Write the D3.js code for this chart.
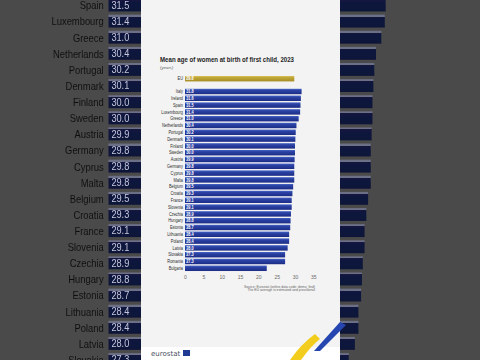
<!DOCTYPE html>
<head>
    <meta charset="utf-8">
    <title>Mean age of women at birth of first child</title>
    <script type="text/javascript" src="https://d3js.org/d3.v7.min.js"></script>
    <style>
        body { margin: 0; background: #4a4a4a; }
        svg { display: block; }
    </style>
</head>
<body>
<div id="container"></div>
<script>
    //-----------------------------DATA------------------------------//
    const countries = ["Italy", "Ireland", "Spain", "Luxembourg", "Greece", "Netherlands",
        "Portugal", "Denmark", "Finland", "Sweden", "Austria", "Germany", "Cyprus", "Malta",
        "Belgium", "Croatia", "France", "Slovenia", "Czechia", "Hungary", "Estonia",
        "Lithuania", "Poland", "Latvia", "Slovakia", "Romania", "Bulgaria"];
    const values = [31.8, 31.6, 31.5, 31.4, 31.0, 30.4, 30.2, 30.1, 30.0, 30.0, 29.9, 29.8,
        29.8, 29.8, 29.5, 29.3, 29.1, 29.1, 28.9, 28.8, 28.7, 28.4, 28.4, 28.0, 27.3, 27.3, 22.3];
    // bulgaria's bar is still growing in this frame, so no label yet
    const valueLabels = ["31.8", "31.6", "31.5", "31.4", "31.0", "30.4", "30.2", "30.1", "30.0",
        "30.0", "29.9", "29.8", "29.8", "29.8", "29.5", "29.3", "29.1", "29.1", "28.9", "28.8",
        "28.7", "28.4", "28.4", "28.0", "27.3", "27.3", ""];
    const euLabel = "EU";
    const euValue = 29.8;
    const xTicks = [0, 5, 10, 15, 20, 25, 30, 35];

    //-----------------------------SVG-------------------------------//
    const width = 480;
    const height = 360;
    const FONT = "'Liberation Sans Narrow', 'Arial Narrow', 'Liberation Sans', sans-serif";
    const NARROW = 0.8; // squeeze factor, the original font is a narrow one

    const svg = d3.select("div#container").append("svg")
        .attr("width", width)
        .attr("height", height);

    const defs = svg.append("defs");

    function gradient(id, stops) {
        const gr = defs.append("linearGradient").attr("id", id)
            .attr("x1", 0).attr("y1", 0).attr("x2", 0).attr("y2", 1);
        stops.forEach(function(s) {
            gr.append("stop").attr("offset", s[0]).attr("stop-color", s[1]);
        });
    }
    gradient("bar-card", [["0%", "#4a66c6"], ["30%", "#2b43a5"], ["100%", "#1c2c85"]]);
    gradient("eu-card", [["0%", "#d8c35a"], ["30%", "#c0a638"], ["100%", "#a68e24"]]);
    gradient("bar-bg", [["0%", "#6c6f87"], ["15%", "#6c6f87"], ["15%", "#12183f"], ["100%", "#0e1438"]]);
    gradient("eu-bg", [["0%", "#6f6a4a"], ["15%", "#6f6a4a"], ["15%", "#3b3412"], ["100%", "#332d0e"]]);

    defs.append("filter").attr("id", "soft")
        .append("feGaussianBlur").attr("stdDeviation", 0.22);

    const cardPal = { bar: "url(#bar-card)", eu: "url(#eu-card)", label: "#2b2b2b",
        value: "#ffffff", valueWeight: "bold", tick: "#6a6a6a" };
    const bgPal = { bar: "url(#bar-bg)", eu: "url(#eu-bg)", label: "#101010",
        value: "#c3c6dc", valueWeight: "normal", tick: "#222" };

    // narrow text: place with translate, then squeeze horizontally
    function squeezed(sel, xx, yy) {
        return sel.attr("transform", function(d, i) {
            return "translate(" + xx(d, i) + "," + yy(d, i) + ") scale(" + NARROW + ",1)";
        });
    }

    //----------------------------CHART------------------------------//
    function drawChart(g, pal) {
        const x = d3.scaleLinear().domain([0, 35]).range([185, 313.33]);
        const y = d3.scaleBand().domain(countries)
            .range([88.1, 88.1 + countries.length * 6.8])
            .paddingInner(0.2).paddingOuter(0.1);
        const yEu = d3.scaleBand().domain([euLabel]).range([75.3, 82.1])
            .paddingInner(0.2).paddingOuter(0.1);
        const bw = y.bandwidth();

        const rows = countries.map(function(c, i) {
            return { name: c, value: values[i], label: valueLabels[i] };
        });

        // EU row
        const eu = g.append("g").attr("transform", "translate(0," + yEu(euLabel) + ")");
        eu.append("rect")
            .attr("x", x(0))
            .attr("width", x(euValue) - x(0)).attr("height", yEu.bandwidth())
            .attr("fill", pal.eu);
        squeezed(eu.append("text"), () => x(0) - 2, () => yEu.bandwidth() / 2)
            .attr("text-anchor", "end").attr("dominant-baseline", "central")
            .style("font-family", FONT).style("font-size", "4.9px")
            .attr("fill", pal.label).text(euLabel);
        squeezed(eu.append("text"), () => x(0) + 1.2, () => yEu.bandwidth() / 2)
            .attr("dominant-baseline", "central")
            .style("font-family", FONT).style("font-size", "4.8px").style("font-weight", pal.valueWeight)
            .attr("fill", pal.value).text(euValue.toFixed(1));

        // countries
        const row = g.selectAll("g.row")
            .data(rows)
            .enter()
            .append("g")
            .attr("class", "row")
            .attr("transform", function(d) { return "translate(0," + y(d.name) + ")"; });

        row.append("rect")
            .attr("x", x(0))
            .attr("width", function(d) { return x(d.value) - x(0); })
            .attr("height", bw)
            .attr("fill", pal.bar);

        squeezed(row.append("text"), () => x(0) - 2, () => bw / 2)
            .attr("text-anchor", "end")
            .attr("dominant-baseline", "central")
            .style("font-family", FONT).style("font-size", "4.9px")
            .attr("fill", pal.label)
            .text(function(d) { return d.name; });

        squeezed(row.append("text"), () => x(0) + 1.2, () => bw / 2)
            .attr("dominant-baseline", "central")
            .style("font-family", FONT).style("font-size", "4.8px").style("font-weight", pal.valueWeight)
            .attr("fill", pal.value)
            .text(function(d) { return d.label; });

        // x axis, labels only
        const axis = g.append("g")
            .attr("transform", "translate(0,275.5)")
            .call(d3.axisBottom(x).tickValues(xTicks).tickSize(0).tickPadding(0));
        axis.select(".domain").remove();
        axis.selectAll("text")
            .style("font-family", FONT).style("font-size", "5px")
            .attr("fill", pal.tick);
    }

    //--------------------------BACKGROUND---------------------------//
    // blown-up, darkened copy of the same chart behind the card
    svg.append("rect").attr("width", width).attr("height", height).attr("fill", "#4a4a4a");
    const bgLayer = svg.append("g")
        .attr("transform", "translate(-335.5,-244.1) scale(2.4,2.37)")
        .attr("filter", "url(#soft)");
    drawChart(bgLayer, bgPal);

    //-----------------------------CARD------------------------------//
    svg.append("rect").attr("x", 141).attr("y", 0).attr("width", 199).attr("height", height)
        .attr("fill", "#f3f3f3");
    svg.append("rect").attr("x", 141).attr("y", 347).attr("width", 199).attr("height", 13)
        .attr("fill", "#ffffff");

    const card = svg.append("g");
    drawChart(card, cardPal);

    card.append("text")
        .attr("x", 160).attr("y", 62)
        .attr("textLength", 134).attr("lengthAdjust", "spacingAndGlyphs")
        .style("font-family", FONT).style("font-size", "8px").style("font-weight", "bold")
        .attr("fill", "#1e1e1e")
        .text("Mean age of women at birth of first child, 2023");
    card.append("text")
        .attr("x", 160).attr("y", 68.5)
        .style("font-family", FONT).style("font-size", "4.2px").style("font-style", "italic")
        .attr("fill", "#555")
        .text("(years)");

    const source = ["Source: Eurostat (online data code: demo_find)",
        "The EU average is estimated and provisional"];
    card.selectAll("text.src")
        .data(source)
        .enter()
        .append("text")
        .attr("class", "src")
        .attr("x", 315)
        .attr("y", function(d, i) { return 287.5 + i * 3.8; })
        .attr("text-anchor", "end")
        .style("font-family", FONT).style("font-size", "3.4px")
        .attr("fill", "#666")
        .text(function(d) { return d; });

    // logo
    card.append("text")
        .attr("x", 151).attr("y", 356)
        .style("font-family", "'DejaVu Sans', sans-serif").style("font-size", "7px")
        .attr("fill", "#4d5260")
        .text("eurostat");
    card.append("rect").attr("x", 183).attr("y", 350).attr("width", 7).attr("height", 6)
        .attr("fill", "#1f3a93");

    // swoosh
    svg.append("path")
        .attr("d", "M290,360 L301,360 Q311,346 320,339 L315,334 Q301,344 290,360 Z")
        .attr("fill", "#f2cd1e");
    svg.append("path")
        .attr("d", "M314,351 L320,351 L346,325 L340,322 Z")
        .attr("fill", "#2546b0");
</script>
</body>
